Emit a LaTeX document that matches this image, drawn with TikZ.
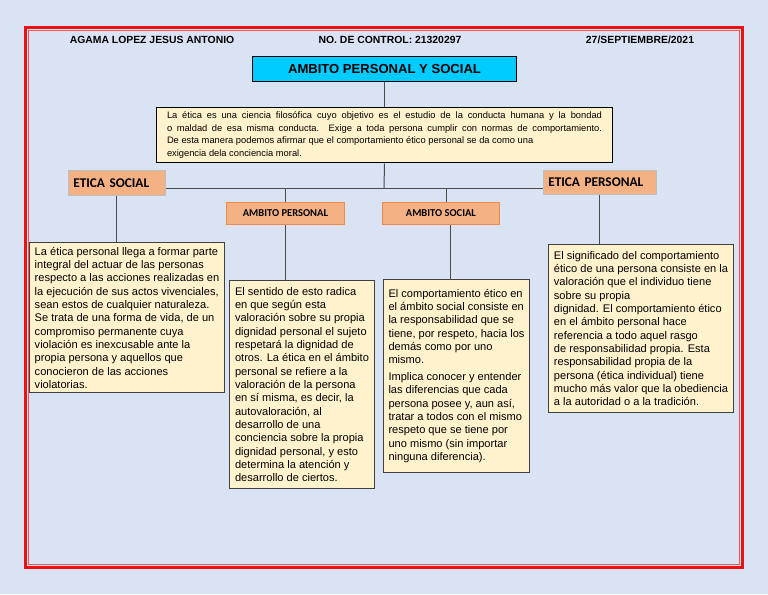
\documentclass[tikz,border=0pt]{standalone}
\usepackage{fontspec}
\setmainfont{Liberation Sans}
\newfontfamily\calibri{Carlito}
\usetikzlibrary{positioning}
\definecolor{fondo}{HTML}{DAE3F3}
\definecolor{crema}{HTML}{FFF2CC}
\definecolor{salmon}{HTML}{F4B183}
\definecolor{naranja}{HTML}{F08A4B}
\definecolor{cian}{HTML}{00CCFF}
\definecolor{marco}{HTML}{EE1111}

\begin{document}
\begin{tikzpicture}[x=0.75pt, y=-0.75pt,
  encab/.style={font=\bfseries\fontsize{7.8}{9}\selectfont},
  caja/.style={draw=black!75, fill=crema, line width=0.75pt, anchor=north west,
    align=left, inner xsep=3pt, font=\fontsize{8.3}{10}\selectfont},
  etica/.style={draw=black!25, fill=salmon, anchor=north west, align=left,
    inner xsep=3.75pt, font=\calibri\bfseries\fontsize{10}{12}\selectfont},
  ambito/.style={draw=naranja, fill=salmon, anchor=north west, line width=0.6pt,
    font=\calibri\bfseries\fontsize{7.9}{9}\selectfont},
  linea/.style={draw=black!70, line width=0.75pt}]
  % background and red frame
  \fill[fondo] (0,0) rectangle (768,594);
  \useasboundingbox (0,0) rectangle (768,594);
  \draw[marco, line width=2.25pt] (25.5,27.5) rectangle (742.5,567.5);
  \draw[marco!70, line width=0.75pt] (28.5,30.5) rectangle (739.5,564.5);
  % header
  \node[encab] (nombre) at (152,40) {AGAMA LOPEZ JESUS ANTONIO};
  \node[encab] (control) at (390,40) {NO. DE CONTROL: 21320297};
  \node[encab] (fecha) at (640,40) {27/SEPTIEMBRE/2021};
  % title and definition
  \node[draw, fill=cian, line width=0.75pt, anchor=north west, minimum width=198pt,
    minimum height=18.75pt, font=\bfseries\fontsize{9.8}{11}\selectfont]
    (titulo) at (252,56) {AMBITO PERSONAL Y SOCIAL};
  \node[draw, fill=crema, line width=0.75pt, anchor=north west, minimum height=39.75pt,
    text width=326.25pt, inner xsep=7.875pt, align=justify,
    font=\fontsize{7}{9.4}\selectfont] (intro) at (156,107)
    {La ética es una ciencia filosófica cuyo objetivo es el estudio de la conducta humana y la bondad\linebreak
     o maldad de esa misma conducta. Exige a toda persona cumplir con normas de comportamiento.\linebreak
     De esta manera podemos afirmar que el comportamiento ético personal se da como una\\
     exigencia dela conciencia moral.};
  \coordinate (nudo) at (384,188);
  % branches
  \node[etica, text width=65.25pt, minimum height=18.75pt] (esocial) at (68,170) {ETICA SOCIAL};
  \node[etica, text width=77.25pt, minimum height=18pt] (epersonal) at (543,170) {ETICA PERSONAL};
  \node[ambito, minimum width=88.5pt, minimum height=16.5pt] (apersonal) at (226,202) {AMBITO PERSONAL};
  \node[ambito, minimum width=87.75pt, minimum height=16.5pt] (asocial) at (382,202) {AMBITO SOCIAL};
  % text boxes
  \node[caja, minimum width=146.25pt, minimum height=112.5pt] (esocialtxt) at (29,242)
    {La ética personal llega a formar parte\\
     integral del actuar de las personas\\
     respecto a las acciones realizadas en\\
     la ejecución de sus actos vivenciales,\\
     sean estos de cualquier naturaleza.\\
     Se trata de una forma de vida, de un\\
     compromiso permanente cuya\\
     violación es inexcusable ante la\\
     propia persona y aquellos que\\
     conocieron de las acciones\\
     violatorias.};
  \node[caja, minimum width=108.75pt, minimum height=156pt] (apersonaltxt) at (229,280)
    {El sentido de esto radica\\
     en que según esta\\
     valoración sobre su propia\\
     dignidad personal el sujeto\\
     respetará la dignidad de\\
     otros. La ética en el ámbito\\
     personal se refiere a la\\
     valoración de la persona\\
     en sí misma, es decir, la\\
     autovaloración, al\\
     desarrollo de una\\
     conciencia sobre la propia\\
     dignidad personal, y esto\\
     determina la atención y\\
     desarrollo de ciertos.};
  \node[caja, minimum width=109.5pt, minimum height=144.75pt] (asocialtxt) at (383,279)
    {El comportamiento ético en\\
     el ámbito social consiste en\\
     la responsabilidad que se\\
     tiene, por respeto, hacia los\\
     demás como por uno\\
     mismo.\\[2.5pt]
     Implica conocer y entender\\
     las diferencias que cada\\
     persona posee y, aun así,\\
     tratar a todos con el mismo\\
     respeto que se tiene por\\
     uno mismo (sin importar\\
     ninguna diferencia).};
  \node[caja, minimum width=138.75pt, minimum height=126pt] (epersonaltxt) at (548,244)
    {El significado del comportamiento\\
     ético de una persona consiste en la\\
     valoración que el individuo tiene\\
     sobre su propia\\
     dignidad. El comportamiento ético\\
     en el ámbito personal hace\\
     referencia a todo aquel rasgo\\
     de responsabilidad propia. Esta\\
     responsabilidad propia de la\\
     persona (ética individual) tiene\\
     mucho más valor que la obediencia\\
     a la autoridad o a la tradición.};
  % connectors
  \coordinate (asarriba) at ([xshift=4pt]asocial.north);
  \coordinate (asabajo) at ([xshift=7pt]asocial.south);
  \draw[linea] (titulo.south) -- (intro.north);
  \draw[linea] (intro.south) -- (nudo);
  \draw[linea] (esocial.east |- nudo) -- (epersonal.west |- nudo);
  \draw[linea] (apersonal.north |- nudo) -- (apersonal.north);
  \draw[linea] (asarriba |- nudo) -- (asarriba);
  \draw[linea] (esocial.south) -- (esocial.south |- esocialtxt.north);
  \draw[linea] (epersonal.south) -- (epersonal.south |- epersonaltxt.north);
  \draw[linea] (apersonal.south) -- (apersonal.south |- apersonaltxt.north);
  \draw[linea] (asabajo) -- (asabajo |- asocialtxt.north);
\end{tikzpicture}
\end{document}
